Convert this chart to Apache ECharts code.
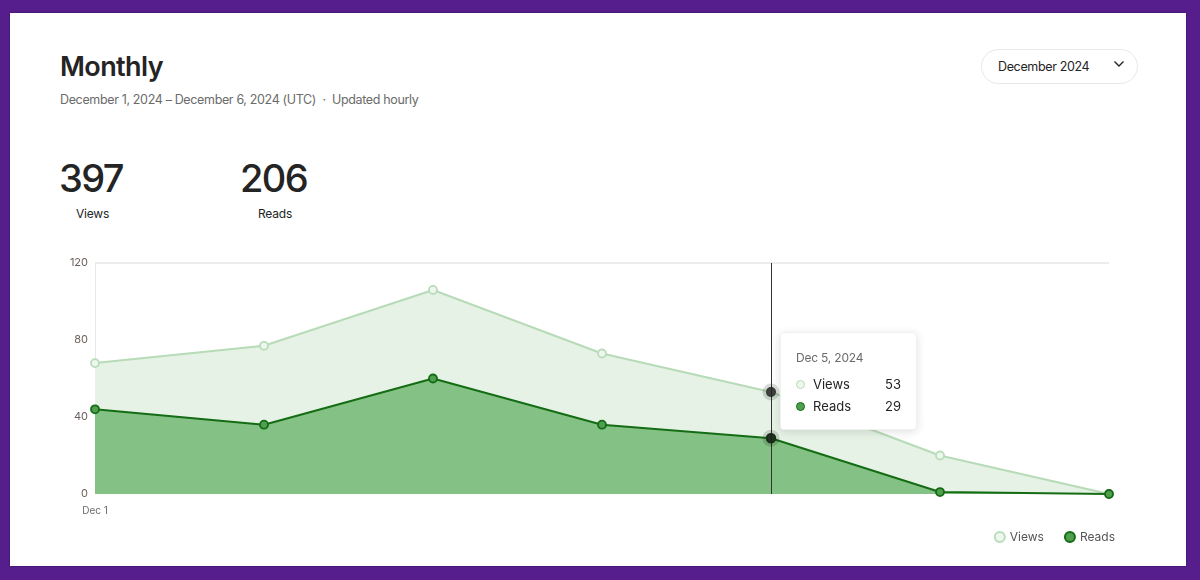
<!DOCTYPE html>
<html>
<head>
<meta charset="utf-8">
<script src="https://cdn.jsdelivr.net/npm/echarts@6/dist/echarts.min.js"></script>
<style>
  html, body { margin: 0; padding: 0; width: 1200px; height: 580px; overflow: hidden; background: #561d8d; font-family: Inter, "Noto Sans", sans-serif; }
  #card { position: absolute; left: 10px; top: 13px; width: 1176px; height: 553px; background: #fff; box-shadow: 0 0 2px rgba(0,0,0,0.35); }
  #chart { position: absolute; left: 0; top: 0; width: 1200px; height: 580px; }
  .abs { position: absolute; white-space: nowrap; color: #242424; }
  #title { left: 60px; top: 50px; font-size: 27px; font-weight: 600; letter-spacing: -0.6px; }
  #sub { left: 60px; top: 92px; font-size: 12.5px; letter-spacing: -0.35px; color: #6b6b6b; }
  .num { top: 155px; font-size: 38px; font-weight: 500; letter-spacing: -1.6px; }
  .lab { top: 206px; font-size: 12px; letter-spacing: -0.2px; }
  #dd { left: 981px; top: 49px; width: 155px; height: 33px; border: 1px solid #e8e8e8; border-radius: 18px; }
  #ddtext { left: 16px; top: 9px; font-size: 12.5px; letter-spacing: -0.35px; color: #242424; }
  #ddchev { left: 131px; top: 10px; }
</style>
</head>
<body>
<div id="card"></div>
<div class="abs" id="title">Monthly</div>
<div class="abs" id="sub">December 1, 2024 – December 6, 2024 (UTC) &nbsp;·&nbsp; Updated hourly</div>
<div class="abs num" style="left:59px">397</div>
<div class="abs lab" style="left:76px">Views</div>
<div class="abs num" style="left:240px">206</div>
<div class="abs lab" style="left:258px">Reads</div>
<div class="abs" id="dd">
  <div class="abs" id="ddtext">December 2024</div>
  <svg class="abs" id="ddchev" width="12" height="8" viewBox="0 0 12 8"><path d="M1.5 1.5 L6 6 L10.5 1.5" fill="none" stroke="#242424" stroke-width="1.4"/></svg>
</div>
<div id="chart"></div>
<script>
const categories = ['Dec 1', 'Dec 2', 'Dec 3', 'Dec 4', 'Dec 5', 'Dec 6', 'Dec 7'];
const views = [68, 77, 106, 73, 53, 20, 0];
const reads = [44, 36, 60, 36, 29, 1, 0];
const yTicks = [0, 40, 80, 120];
const tipIndex = 4;
const tipYear = '2024';

const chart = echarts.init(document.getElementById('chart'), null, { renderer: 'canvas' });

const hlViews = views.map((v, i) => i === tipIndex ? v : null);
const hlReads = reads.map((v, i) => i === tipIndex ? v : null);

chart.setOption({
  animation: false,
  backgroundColor: 'transparent',
  grid: { left: 95, right: 91, top: 263, bottom: 86, containLabel: false },
  legend: {
    right: 80, top: 526, itemWidth: 10, itemHeight: 10, itemGap: 20,
    icon: 'circle',
    textStyle: { color: '#555', fontSize: 12, fontFamily: 'Inter' },
    data: ['Views', 'Reads'],
    selectedMode: false
  },
  tooltip: {
    trigger: 'axis',
    alwaysShowContent: true,
    triggerOn: 'none',
    position: function () { return [780, 332]; },
    backgroundColor: '#fff',
    borderColor: '#f0f0f0',
    borderWidth: 1,
    padding: [14, 15, 12, 15],
    extraCssText: 'box-shadow: 0 2px 10px rgba(0,0,0,0.12); border-radius: 4px; width: 105px;',
    axisPointer: { type: 'line', lineStyle: { color: '#333', width: 1, type: 'solid' }, z: 5 },
    formatter: function (params) {
      const i = params[0].dataIndex;
      const dot = (c, b) => '<span style="display:inline-block;width:7px;height:7px;border-radius:50%;background:' + c + ';border:1.5px solid ' + b + ';margin-right:8px;vertical-align:middle;position:relative;top:-1px"></span>';
      const row = (c, b, n, v) => '<div style="display:flex;justify-content:space-between;align-items:center;font-size:13px;color:#242424;line-height:22px;font-family:Inter">' +
        '<span>' + dot(c, b) + n + '</span><span>' + v + '</span></div>';
      return '<div style="font-size:12px;color:#6b6b6b;margin-bottom:5px;font-family:Inter;letter-spacing:-0.2px">' + categories[i] + ', ' + tipYear + '</div>' +
        row('#eef7ee', '#b9dcb9', 'Views', views[i]) + row('#4f9f4f', '#146c14', 'Reads', reads[i]);
    }
  },
  xAxis: {
    type: 'category',
    data: categories,
    boundaryGap: false,
    axisLine: { show: false },
    axisTick: { show: false },
    axisLabel: {
      color: '#6b6b6b', fontSize: 10, fontFamily: 'Inter', margin: 12,
      interval: function (idx) { return idx === 0; }
    },
    splitLine: { show: true, lineStyle: { color: '#e8e8e8', width: 1 } },
    axisPointer: { show: true, type: 'line', lineStyle: { color: '#333', width: 1 }, label: { show: false } }
  },
  yAxis: {
    type: 'value',
    min: yTicks[0], max: yTicks[yTicks.length - 1], interval: 40,
    axisLine: { show: false },
    axisTick: { show: false },
    axisLabel: { color: '#6b5f5a', fontSize: 11, fontFamily: 'Inter', margin: 7 },
    splitLine: { show: true, lineStyle: { color: ['transparent', 'transparent', 'transparent', '#ececec'], width: 2 } }
  },
  series: [
    {
      name: 'Views', type: 'line', data: views,
      symbol: 'circle', symbolSize: 8, showAllSymbol: true,
      lineStyle: { color: '#b7dbb7', width: 2 },
      itemStyle: { color: '#eef7ee', borderColor: '#b9dcb9', borderWidth: 1.8 },
      areaStyle: { color: '#e6f2e6', opacity: 1 },
      emphasis: { disabled: true },
      z: 2
    },
    {
      name: 'Reads', type: 'line', data: reads,
      symbol: 'circle', symbolSize: 8, showAllSymbol: true,
      lineStyle: { color: '#146c14', width: 2 },
      itemStyle: { color: '#4f9f4f', borderColor: '#146c14', borderWidth: 1.8 },
      areaStyle: { color: '#84c184', opacity: 1 },
      emphasis: { disabled: true },
      z: 3
    },
    {
      name: 'hl-halo', type: 'scatter', silent: true, data: hlViews,
      symbolSize: 17, itemStyle: { color: 'rgba(0,0,0,0.18)' }, z: 10, tooltip: { show: false }
    },
    {
      name: 'hl-halo2', type: 'scatter', silent: true, data: hlReads,
      symbolSize: 17, itemStyle: { color: 'rgba(0,0,0,0.18)' }, z: 10, tooltip: { show: false }
    },
    {
      name: 'hl-dot', type: 'scatter', silent: true, data: hlViews,
      symbolSize: 10, itemStyle: { color: '#1c1c1c' }, z: 11, tooltip: { show: false }
    },
    {
      name: 'hl-dot2', type: 'scatter', silent: true, data: hlReads,
      symbolSize: 10, itemStyle: { color: '#1c1c1c' }, z: 11, tooltip: { show: false }
    }
  ]
});

chart.dispatchAction({ type: 'showTip', seriesIndex: 0, dataIndex: tipIndex });
</script>
</body>
</html>
